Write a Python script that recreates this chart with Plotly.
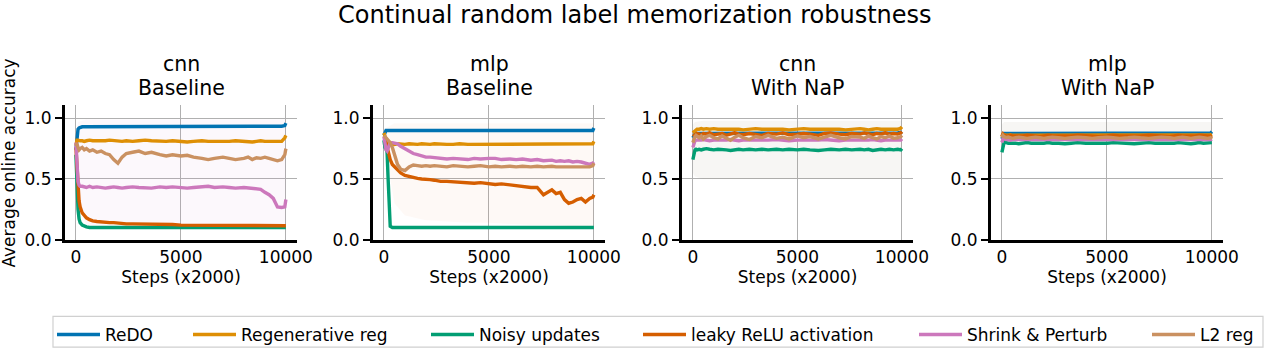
import plotly.graph_objects as go

# ---------------- data ----------------
METHODS = ["ReDO", "Regenerative reg", "Noisy updates", "leaky ReLU activation",
           "Shrink & Perturb", "L2 reg"]
COLORS = ["#0173b2", "#de8f05", "#029e73", "#d55e00", "#cc78bc", "#ca9161"]

STEPS = [0, 50, 100, 150, 200, 300, 400, 500, 650, 800, 1000, 1200, 1400, 1600, 1800,
         2000, 2200, 2400, 2700, 3000, 3300, 3600, 4000, 4300, 4600, 5000, 5300, 5600,
         6000, 6300, 6600, 7000, 7300, 7600, 8000, 8200, 8400, 8600, 8800, 9000, 9200,
         9400, 9600, 9800, 9950, 10000]

PANEL_TOP = ["cnn", "mlp", "cnn", "mlp"]
PANEL_SUB = ["Baseline", "Baseline", "With NaP", "With NaP"]

# cnn / Baseline
cnn_base_redo = [0.74, 0.86, 0.91, 0.92, 0.925, 0.93, 0.93, 0.93, 0.935, 0.93, 0.935, 0.93, 0.935, 0.93, 0.935,
                 0.93, 0.935, 0.93, 0.935, 0.93, 0.93, 0.935, 0.93, 0.935, 0.93, 0.935, 0.93, 0.935, 0.93, 0.93,
                 0.935, 0.93, 0.935, 0.93, 0.935, 0.93, 0.935, 0.93, 0.93, 0.935, 0.93, 0.935, 0.93, 0.935, 0.94, 0.96]
cnn_base_regen = [0.78, 0.82, 0.82, 0.815, 0.815, 0.815, 0.81, 0.815, 0.82, 0.815, 0.815, 0.81, 0.815, 0.82, 0.815,
                  0.815, 0.81, 0.815, 0.81, 0.815, 0.82, 0.815, 0.81, 0.81, 0.815, 0.81, 0.805, 0.81, 0.815, 0.81,
                  0.81, 0.805, 0.81, 0.815, 0.81, 0.81, 0.805, 0.81, 0.815, 0.81, 0.81, 0.81, 0.815, 0.81, 0.84, 0.86]
cnn_base_noisy = [0.70, 0.45, 0.25, 0.17, 0.14, 0.12, 0.11, 0.105, 0.10, 0.10, 0.10, 0.10, 0.10, 0.10, 0.10,
                  0.10, 0.10, 0.10, 0.10, 0.10, 0.10, 0.10, 0.10, 0.10, 0.10, 0.10, 0.10, 0.10, 0.10, 0.10,
                  0.10, 0.10, 0.10, 0.10, 0.10, 0.10, 0.10, 0.10, 0.10, 0.10, 0.10, 0.10, 0.10, 0.10, 0.10, 0.10]
cnn_base_leaky = [0.76, 0.60, 0.42, 0.32, 0.27, 0.22, 0.20, 0.18, 0.165, 0.155, 0.15, 0.145, 0.14, 0.14, 0.14,
                  0.135, 0.135, 0.13, 0.13, 0.13, 0.13, 0.125, 0.125, 0.125, 0.125, 0.12, 0.12, 0.12, 0.12, 0.12,
                  0.12, 0.12, 0.12, 0.115, 0.115, 0.115, 0.115, 0.115, 0.115, 0.115, 0.115, 0.115, 0.115, 0.115, 0.115, 0.115]
cnn_base_shrink = [0.80, 0.62, 0.48, 0.45, 0.44, 0.44, 0.435, 0.43, 0.44, 0.43, 0.435, 0.43, 0.425, 0.43, 0.435,
                   0.43, 0.425, 0.43, 0.435, 0.43, 0.43, 0.425, 0.435, 0.43, 0.435, 0.43, 0.425, 0.43, 0.435, 0.44,
                   0.43, 0.435, 0.43, 0.425, 0.43, 0.425, 0.42, 0.42, 0.415, 0.39, 0.37, 0.34, 0.27, 0.265, 0.27, 0.33]
cnn_base_l2 = [0.77, 0.79, 0.76, 0.74, 0.75, 0.76, 0.74, 0.75, 0.73, 0.74, 0.72, 0.73, 0.71, 0.70, 0.66,
               0.63, 0.68, 0.71, 0.72, 0.73, 0.71, 0.72, 0.70, 0.69, 0.70, 0.69, 0.695, 0.68, 0.67, 0.66,
               0.67, 0.68, 0.67, 0.66, 0.67, 0.68, 0.66, 0.675, 0.67, 0.68, 0.67, 0.66, 0.65, 0.66, 0.70, 0.75]

# mlp / Baseline
mlp_base_redo = [0.86, 0.89, 0.90, 0.90, 0.90, 0.90, 0.90, 0.90, 0.90, 0.90, 0.90, 0.905, 0.90, 0.90, 0.90,
                 0.90, 0.90, 0.905, 0.90, 0.90, 0.90, 0.90, 0.905, 0.90, 0.90, 0.90, 0.90, 0.90, 0.905, 0.90,
                 0.90, 0.905, 0.90, 0.90, 0.90, 0.90, 0.90, 0.905, 0.90, 0.90, 0.90, 0.905, 0.90, 0.90, 0.90, 0.92]
mlp_base_regen = [0.88, 0.85, 0.82, 0.80, 0.79, 0.785, 0.79, 0.785, 0.79, 0.785, 0.785, 0.79, 0.785, 0.785, 0.79,
                  0.785, 0.785, 0.79, 0.785, 0.785, 0.785, 0.79, 0.785, 0.785, 0.79, 0.785, 0.785, 0.785, 0.79, 0.785,
                  0.785, 0.785, 0.79, 0.785, 0.785, 0.785, 0.785, 0.79, 0.785, 0.785, 0.785, 0.785, 0.785, 0.785, 0.79, 0.81]
mlp_base_noisy = [0.82, 0.76, 0.75, 0.72, 0.50, 0.11, 0.10, 0.10, 0.10, 0.10, 0.10, 0.10, 0.10, 0.10, 0.10,
                  0.10, 0.10, 0.10, 0.10, 0.10, 0.10, 0.10, 0.10, 0.10, 0.10, 0.10, 0.10, 0.10, 0.10, 0.10,
                  0.10, 0.10, 0.10, 0.10, 0.10, 0.10, 0.10, 0.10, 0.10, 0.10, 0.10, 0.10, 0.10, 0.10, 0.10, 0.10]
mlp_base_leaky = [0.85, 0.84, 0.80, 0.76, 0.72, 0.66, 0.62, 0.60, 0.57, 0.55, 0.53, 0.52, 0.51, 0.505, 0.50,
                  0.50, 0.495, 0.49, 0.48, 0.48, 0.475, 0.47, 0.47, 0.465, 0.47, 0.46, 0.455, 0.46, 0.45, 0.445,
                  0.44, 0.43, 0.43, 0.37, 0.41, 0.38, 0.39, 0.33, 0.30, 0.31, 0.33, 0.34, 0.31, 0.34, 0.35, 0.37]
mlp_base_shrink = [0.85, 0.78, 0.74, 0.73, 0.76, 0.80, 0.80, 0.795, 0.79, 0.77, 0.75, 0.73, 0.71, 0.70, 0.69,
                   0.68, 0.68, 0.675, 0.67, 0.665, 0.67, 0.665, 0.66, 0.67, 0.665, 0.67, 0.67, 0.66, 0.665, 0.66,
                   0.665, 0.655, 0.66, 0.65, 0.655, 0.645, 0.65, 0.645, 0.65, 0.64, 0.645, 0.64, 0.63, 0.62, 0.63, 0.64]
mlp_base_l2 = [0.86, 0.85, 0.84, 0.83, 0.82, 0.80, 0.76, 0.70, 0.62, 0.58, 0.57, 0.60, 0.615, 0.61, 0.605,
               0.61, 0.605, 0.61, 0.605, 0.60, 0.61, 0.605, 0.60, 0.605, 0.61, 0.60, 0.605, 0.60, 0.605, 0.60,
               0.605, 0.60, 0.605, 0.60, 0.605, 0.60, 0.60, 0.605, 0.60, 0.60, 0.605, 0.60, 0.60, 0.60, 0.61, 0.63]

# cnn / With NaP
cnn_nap_redo = [0.84, 0.86, 0.87, 0.875, 0.875, 0.88, 0.875, 0.88, 0.875, 0.88, 0.875, 0.88, 0.875, 0.88, 0.875,
                0.88, 0.875, 0.88, 0.875, 0.88, 0.875, 0.88, 0.875, 0.88, 0.875, 0.88, 0.875, 0.88, 0.875, 0.88,
                0.875, 0.88, 0.875, 0.88, 0.875, 0.88, 0.875, 0.88, 0.875, 0.88, 0.875, 0.88, 0.875, 0.88, 0.885, 0.89]
cnn_nap_regen = [0.88, 0.89, 0.90, 0.905, 0.91, 0.91, 0.915, 0.91, 0.915, 0.91, 0.915, 0.91, 0.91, 0.915, 0.91,
                 0.915, 0.91, 0.905, 0.91, 0.915, 0.91, 0.91, 0.915, 0.91, 0.905, 0.91, 0.915, 0.91, 0.91, 0.915,
                 0.91, 0.91, 0.905, 0.91, 0.915, 0.91, 0.905, 0.91, 0.915, 0.91, 0.91, 0.915, 0.91, 0.91, 0.92, 0.93]
cnn_nap_noisy = [0.66, 0.72, 0.74, 0.745, 0.74, 0.745, 0.74, 0.745, 0.75, 0.745, 0.74, 0.745, 0.745, 0.74, 0.735,
                 0.74, 0.745, 0.74, 0.745, 0.74, 0.745, 0.74, 0.745, 0.74, 0.745, 0.74, 0.745, 0.74, 0.735, 0.74,
                 0.745, 0.74, 0.745, 0.74, 0.745, 0.74, 0.745, 0.735, 0.74, 0.745, 0.74, 0.745, 0.74, 0.745, 0.74, 0.75]
cnn_nap_leaky = [0.85, 0.86, 0.87, 0.87, 0.875, 0.87, 0.865, 0.875, 0.87, 0.88, 0.865, 0.87, 0.875, 0.86, 0.87,
                 0.88, 0.87, 0.865, 0.875, 0.87, 0.86, 0.875, 0.87, 0.88, 0.865, 0.87, 0.875, 0.87, 0.86, 0.875,
                 0.88, 0.87, 0.865, 0.875, 0.87, 0.88, 0.87, 0.865, 0.875, 0.87, 0.88, 0.87, 0.875, 0.87, 0.88, 0.89]
cnn_nap_shrink = [0.76, 0.80, 0.815, 0.82, 0.82, 0.815, 0.82, 0.825, 0.82, 0.815, 0.82, 0.82, 0.815, 0.82, 0.825,
                  0.82, 0.815, 0.82, 0.82, 0.815, 0.82, 0.82, 0.825, 0.82, 0.815, 0.82, 0.82, 0.815, 0.82, 0.825,
                  0.82, 0.815, 0.82, 0.82, 0.82, 0.815, 0.82, 0.825, 0.82, 0.815, 0.82, 0.82, 0.815, 0.82, 0.82, 0.83]
cnn_nap_l2 = [0.80, 0.83, 0.85, 0.86, 0.85, 0.84, 0.855, 0.83, 0.85, 0.86, 0.84, 0.83, 0.855, 0.84, 0.82,
              0.845, 0.86, 0.84, 0.825, 0.85, 0.84, 0.86, 0.835, 0.845, 0.83, 0.855, 0.84, 0.85, 0.83, 0.845,
              0.86, 0.84, 0.83, 0.85, 0.845, 0.835, 0.855, 0.84, 0.83, 0.85, 0.84, 0.855, 0.835, 0.84, 0.85, 0.84]

# mlp / With NaP
mlp_nap_redo = [0.83, 0.86, 0.875, 0.875, 0.875, 0.875, 0.88, 0.875, 0.875, 0.875, 0.88, 0.875, 0.875, 0.88, 0.875,
                0.875, 0.88, 0.875, 0.875, 0.875, 0.88, 0.875, 0.875, 0.88, 0.875, 0.875, 0.875, 0.88, 0.875, 0.875,
                0.88, 0.875, 0.875, 0.875, 0.88, 0.875, 0.875, 0.88, 0.875, 0.875, 0.875, 0.88, 0.875, 0.875, 0.88, 0.89]
mlp_nap_regen = [0.85, 0.87, 0.865, 0.86, 0.86, 0.86, 0.865, 0.86, 0.86, 0.865, 0.86, 0.86, 0.86, 0.865, 0.86,
                 0.86, 0.865, 0.86, 0.86, 0.86, 0.865, 0.86, 0.86, 0.865, 0.86, 0.86, 0.86, 0.865, 0.86, 0.86,
                 0.865, 0.86, 0.86, 0.86, 0.865, 0.86, 0.86, 0.865, 0.86, 0.86, 0.86, 0.865, 0.86, 0.86, 0.865, 0.87]
mlp_nap_noisy = [0.72, 0.78, 0.80, 0.81, 0.80, 0.795, 0.795, 0.80, 0.795, 0.79, 0.795, 0.80, 0.795, 0.795, 0.79,
                 0.795, 0.80, 0.795, 0.795, 0.79, 0.795, 0.80, 0.795, 0.795, 0.79, 0.795, 0.80, 0.795, 0.795, 0.79,
                 0.795, 0.80, 0.795, 0.795, 0.79, 0.795, 0.80, 0.795, 0.795, 0.79, 0.795, 0.80, 0.795, 0.795, 0.795, 0.80]
mlp_nap_leaky = [0.85, 0.87, 0.86, 0.855, 0.855, 0.855, 0.86, 0.855, 0.855, 0.85, 0.855, 0.86, 0.855, 0.855, 0.85,
                 0.855, 0.86, 0.855, 0.855, 0.85, 0.855, 0.86, 0.855, 0.855, 0.85, 0.855, 0.86, 0.855, 0.855, 0.85,
                 0.855, 0.86, 0.855, 0.855, 0.85, 0.855, 0.86, 0.855, 0.855, 0.85, 0.855, 0.86, 0.855, 0.855, 0.855, 0.86]
mlp_nap_shrink = [0.80, 0.83, 0.83, 0.825, 0.825, 0.825, 0.82, 0.825, 0.825, 0.825, 0.82, 0.825, 0.825, 0.825, 0.82,
                  0.825, 0.825, 0.825, 0.82, 0.825, 0.825, 0.825, 0.82, 0.825, 0.825, 0.825, 0.82, 0.825, 0.825, 0.825,
                  0.82, 0.825, 0.825, 0.825, 0.82, 0.825, 0.825, 0.825, 0.82, 0.825, 0.825, 0.825, 0.82, 0.825, 0.825, 0.83]
mlp_nap_l2 = [0.84, 0.86, 0.85, 0.845, 0.84, 0.845, 0.84, 0.835, 0.84, 0.845, 0.84, 0.835, 0.84, 0.845, 0.84,
              0.835, 0.84, 0.845, 0.84, 0.835, 0.84, 0.845, 0.84, 0.835, 0.84, 0.845, 0.84, 0.835, 0.84, 0.845,
              0.84, 0.835, 0.84, 0.845, 0.84, 0.835, 0.84, 0.845, 0.84, 0.835, 0.84, 0.845, 0.84, 0.835, 0.84, 0.85]

# faint spread bands (across seeds)
BAND_STEPS = [0, 100, 500, 1000, 2000, 3000, 4000, 5000, 6000, 7000, 8000, 9000, 10000]
cnn_base_band_lo = [0.70, 0.30, 0.12, 0.12, 0.11, 0.12, 0.11, 0.12, 0.11, 0.12, 0.11, 0.11, 0.12]
cnn_base_band_hi = [0.85, 0.97, 0.99, 0.99, 0.99, 0.99, 0.99, 0.99, 0.99, 0.99, 0.99, 0.99, 0.99]
mlp_base_band_lo = [0.80, 0.70, 0.30, 0.20, 0.16, 0.15, 0.14, 0.14, 0.13, 0.12, 0.12, 0.11, 0.11]
mlp_base_band_hi = [0.88, 0.92, 0.96, 0.96, 0.96, 0.96, 0.96, 0.96, 0.96, 0.96, 0.96, 0.96, 0.96]
cnn_nap_band_lo = [0.55, 0.52, 0.50, 0.50, 0.50, 0.50, 0.50, 0.50, 0.50, 0.50, 0.50, 0.50, 0.50]
cnn_nap_band_hi = [0.95, 0.97, 0.98, 0.98, 0.98, 0.98, 0.98, 0.98, 0.98, 0.98, 0.98, 0.98, 0.98]
mlp_nap_band_lo = [0.88, 0.89, 0.89, 0.89, 0.89, 0.89, 0.89, 0.89, 0.89, 0.89, 0.89, 0.89, 0.89]
mlp_nap_band_hi = [0.95, 0.97, 0.97, 0.97, 0.97, 0.97, 0.97, 0.97, 0.97, 0.97, 0.97, 0.97, 0.97]

X_TICKS = [0, 5000, 10000]
Y_TICKS = [0.0, 0.5, 1.0]

# ---------------- figure ----------------
W, H = 1270, 353
FONT = "DejaVu Sans"

panels = [
    [cnn_base_redo, cnn_base_regen, cnn_base_noisy, cnn_base_leaky, cnn_base_shrink, cnn_base_l2],
    [mlp_base_redo, mlp_base_regen, mlp_base_noisy, mlp_base_leaky, mlp_base_shrink, mlp_base_l2],
    [cnn_nap_redo, cnn_nap_regen, cnn_nap_noisy, cnn_nap_leaky, cnn_nap_shrink, cnn_nap_l2],
    [mlp_nap_redo, mlp_nap_regen, mlp_nap_noisy, mlp_nap_leaky, mlp_nap_shrink, mlp_nap_l2],
]
bands = [
    (cnn_base_band_lo, cnn_base_band_hi, "rgba(204,120,188,0.05)"),
    (mlp_base_band_lo, mlp_base_band_hi, "rgba(213,94,0,0.035)"),
    (cnn_nap_band_lo, cnn_nap_band_hi, "rgba(150,140,110,0.08)"),
    (mlp_nap_band_lo, mlp_nap_band_hi, "rgba(150,140,110,0.08)"),
]

px_domains = [(65, 297), (373, 605), (682, 913), (991, 1223)]
y_dom = (1 - 241.7 / H, 1 - 106 / H)

# legend entry positions (left edge of each entry's line, px) inside the framed legend
LEG_LINE_X = [58, 194, 432, 644, 920, 1153]
LEG_NAMES = ["legend", "legend2", "legend3", "legend4", "legend5", "legend6"]

fig = go.Figure()
layout = dict()
annotations = []
for i, series in enumerate(panels):
    sfx = "" if i == 0 else str(i + 1)
    xa, ya = "x" + sfx, "y" + sfx
    lo, hi, bcol = bands[i]
    fig.add_trace(go.Scatter(x=BAND_STEPS, y=lo, mode="lines", line=dict(width=0),
                             showlegend=False, hoverinfo="skip", xaxis=xa, yaxis=ya))
    fig.add_trace(go.Scatter(x=BAND_STEPS, y=hi, mode="lines", line=dict(width=0),
                             fill="tonexty", fillcolor=bcol,
                             showlegend=False, hoverinfo="skip", xaxis=xa, yaxis=ya))
    for k, (name, col, ys) in enumerate(zip(METHODS, COLORS, series)):
        fig.add_trace(go.Scatter(x=STEPS, y=ys, mode="lines", name=name,
                                 line=dict(color=col, width=3.4),
                                 showlegend=(i == 0), legendgroup=name,
                                 legend=LEG_NAMES[k],
                                 xaxis=xa, yaxis=ya))
    d0, d1 = px_domains[i]
    layout["xaxis" + sfx] = dict(
        domain=[d0 / W, d1 / W], anchor=ya, range=[-520, 10530],
        tickvals=X_TICKS, ticktext=[str(v) for v in X_TICKS], ticks="",
        showline=True, linecolor="black", linewidth=3, mirror=False,
        showgrid=True, gridcolor="#b0b0b0", gridwidth=1.2, zeroline=False,
        tickfont=dict(size=17, color="black", family=FONT),
        title=dict(text="Steps (x2000)", font=dict(size=17, color="black", family=FONT), standoff=2),
        automargin=False,
    )
    layout["yaxis" + sfx] = dict(
        domain=list(y_dom), anchor=xa, range=[0, 1.109],
        tickvals=Y_TICKS, tickformat=".1f", ticks="outside", ticklen=7, tickwidth=1.5,
        tickcolor="black",
        showline=True, linecolor="black", linewidth=3, mirror=False,
        showgrid=True, gridcolor="#b0b0b0", gridwidth=1.2, zeroline=False,
        tickfont=dict(size=17, color="black", family=FONT), automargin=False,
    )
    cx = (d0 + d1) / 2 / W
    annotations.append(dict(text=PANEL_TOP[i], x=cx, y=1 - 65 / H, xref="paper", yref="paper",
                            xanchor="center", yanchor="middle", showarrow=False,
                            font=dict(size=20.5, color="black", family=FONT)))
    annotations.append(dict(text=PANEL_SUB[i], x=cx, y=1 - 89 / H, xref="paper", yref="paper",
                            xanchor="center", yanchor="middle", showarrow=False,
                            font=dict(size=20.5, color="black", family=FONT)))

annotations.append(dict(text="Continual random label memorization robustness", x=0.5, y=1 - 15 / H,
                        xref="paper", yref="paper", xanchor="center", yanchor="middle",
                        showarrow=False, font=dict(size=24, color="black", family=FONT)))
annotations.append(dict(text="Average online accuracy", x=9 / W, y=1 - 165 / H, textangle=-90,
                        xref="paper", yref="paper", xanchor="center", yanchor="middle",
                        showarrow=False, font=dict(size=17, color="black", family=FONT)))

for k, lname in enumerate(LEG_NAMES):
    layout[lname] = dict(orientation="h", x=(LEG_LINE_X[k] - 6) / W, y=1 - 320 / H,
                         xanchor="left", yanchor="top", borderwidth=0,
                         bgcolor="rgba(0,0,0,0)",
                         font=dict(size=17, color="black", family=FONT), itemwidth=43)

fig.update_layout(
    **layout,
    annotations=annotations,
    shapes=[dict(type="rect", xref="paper", yref="paper",
                 x0=53 / W, x1=1263 / W, y0=1 - 350 / H, y1=1 - 319 / H,
                 line=dict(color="#d0d0d0", width=1.2), fillcolor="rgba(0,0,0,0)",
                 layer="below")],
    width=W, height=H, autosize=False,
    margin=dict(l=0, r=0, t=0, b=0),
    paper_bgcolor="white", plot_bgcolor="white",
    font=dict(family=FONT, color="black"),
)

fig.write_html("out.html", config={"displayModeBar": False},
               post_script="document.body.style.margin='0px';")
